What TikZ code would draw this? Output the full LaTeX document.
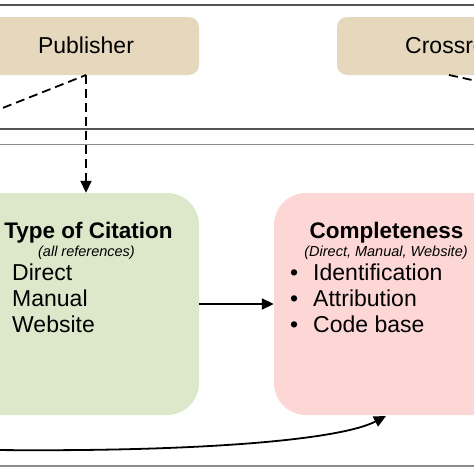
\documentclass[tikz,border=0pt]{standalone}
\usepackage{fontspec}
\setmainfont{Liberation Sans}
\usetikzlibrary{arrows.meta}
\definecolor{pubbeige}{RGB}{229,216,189}
\definecolor{citgreen}{RGB}{221,232,203}
\definecolor{compink}{RGB}{253,214,214}
\definecolor{darkrule}{RGB}{85,85,85}
\definecolor{lightrule}{RGB}{140,140,140}
\tikzset{
  box/.style={draw=none, inner sep=0pt},
  hdark/.style={draw=darkrule, line width=1.6pt},
  hlight/.style={draw=lightrule, line width=1.4pt},
  dashedlink/.style={draw=black, line width=1.8pt, dash pattern=on 9pt off 5pt},
  solidlink/.style={draw=black, line width=1.8pt},
  tip/.style={-{Triangle[length=12pt,width=11pt]}},
  normaltext/.style={font=\fontsize{23}{27}\selectfont, inner sep=0pt},
  boldtext/.style={font=\fontsize{22.5}{27}\selectfont\bfseries, inner sep=0pt},
  smalltext/.style={font=\fontsize{14.5}{17}\selectfont\itshape, inner sep=0pt},
}
\begin{document}
\begin{tikzpicture}[x=1pt,y=-1pt]
\useasboundingbox (0,0) rectangle (474,474);
\clip (0,0) rectangle (474,474);
\fill[white] (0,0) rectangle (474,474);

% horizontal rules
\draw[hdark] (0,5) -- (474,5);
\draw[hdark] (0,129) -- (474,129);
\draw[hlight] (0,144.5) -- (474,144.5);
\draw[hlight] (0,466) -- (474,466);

% boxes
\node[box, fill=pubbeige, minimum width=229pt, minimum height=58pt, rounded corners=10pt] (pub) at (84.5,46) {};
\node[box, fill=pubbeige, minimum width=229pt, minimum height=58pt, rounded corners=10pt] (cross) at (451.5,46) {};
\node[box, fill=citgreen, minimum width=239pt, minimum height=222pt, rounded corners=32pt] (toc) at (79.5,304) {};
\node[box, fill=compink, minimum width=239pt, minimum height=222pt, rounded corners=32pt] (comp) at (393.5,304) {};

% texts
\node[normaltext, anchor=base] (pubt) at (86,53.3) {Publisher};
\node[normaltext, anchor=base west] (crosst) at (405,53.3) {Crossref};

\node[boldtext, anchor=base] (toct) at (88.5,238) {Type of Citation};
\node[smalltext, anchor=base] (tocs) at (86.5,256.5) {(all references)};
\node[normaltext, anchor=base west] (d1) at (12,280.7) {Direct};
\node[normaltext, anchor=base west] (d2) at (12,306.7) {Manual};
\node[normaltext, anchor=base west] (d3) at (12,332.7) {Website};

\node[boldtext, anchor=base] (compt) at (386.5,238) {Completeness};
\node[smalltext, anchor=base] (comps) at (386,256.5) {(Direct, Manual, Website)};
\node[normaltext, anchor=base west] (c1) at (290,280.7) {•\hspace{15pt}Identification};
\node[normaltext, anchor=base west] (c2) at (290,306.7) {•\hspace{15pt}Attribution};
\node[normaltext, anchor=base west] (c3) at (290,332.7) {•\hspace{15pt}Code base};

% connectors
\coordinate (pb) at (86,75);
\coordinate (lft) at (-10,113);
\coordinate (cb) at (449,75);
\coordinate (rgt) at (495,85);
\draw[dashedlink] (lft) -- (pb);
\draw[dashedlink, tip] (pb) -- (pb |- toc.north);
\draw[dashedlink] (cb) -- (rgt);

\draw[solidlink, tip] (toc.east |- 0,304) -- (comp.west |- 0,304);

\coordinate (cs) at (-5,450);
\coordinate (ce) at (386,416);
\draw[solidlink, tip] (cs) .. controls (200,452) and (340,440) .. (ce);
\end{tikzpicture}
\end{document}
